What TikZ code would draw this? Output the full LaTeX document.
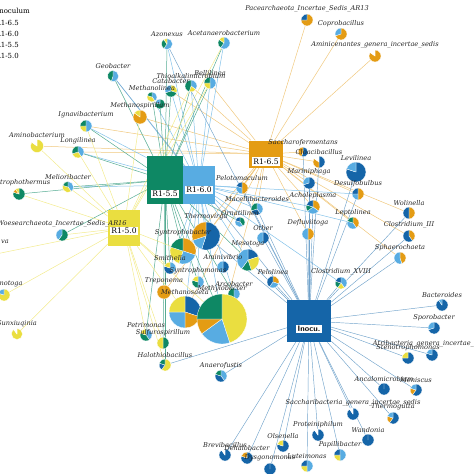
\documentclass[tikz,border=0pt]{standalone}
\usepackage{fontspec}
\setmainfont{DejaVu Serif}
\usetikzlibrary{positioning}
\definecolor{cino}{RGB}{21,101,168}
\definecolor{c65}{RGB}{228,156,20}
\definecolor{c60}{RGB}{88,172,226}
\definecolor{c55}{RGB}{14,136,100}
\definecolor{c50}{RGB}{234,222,64}
\pgfdeclarelayer{edges}
\pgfdeclarelayer{pies}
\pgfsetlayers{edges,pies,main}
\tikzset{
  hub/.style={rectangle, inner sep=0pt},
  hubtag/.style={rectangle, fill=white, inner sep=1.3pt, anchor=south, font=\fontsize{7.6}{9}\selectfont},
  taxon/.style={circle, inner sep=0pt},
  taxlabel/.style={inner sep=0.4pt, font=\fontsize{6.6}{8}\selectfont\itshape, text=black!85},
  legendtext/.style={anchor=east, inner sep=0pt, font=\fontsize{7}{8}\selectfont},
  eino/.style={cino!60, line width=0.45pt},
  e65/.style={c65!55, line width=0.5pt},
  e60/.style={c60!75, line width=0.5pt},
  e55/.style={c55!70, line width=0.5pt},
  e50/.style={c50!60, line width=0.5pt}
}
% pie chart taxon: id, x, y, radius (pt), name, colour/percent list
\newcommand{\taxon}[6]{%
  \node[taxon, minimum size=2*#4pt] (#1) at (#2,#3) {};
  \begin{pgfonlayer}{pies}
    \gdef\pieangle{90}%
    \foreach \col/\share in {#6}{%
      \fill[\col, draw=white, line width=0.3pt] (#1.center) -- ++(\pieangle:#4pt)
        arc[start angle=\pieangle, delta angle=-3.6*\share, radius=#4pt] -- cycle;
      \pgfmathsetmacro\pienext{\pieangle-3.6*\share}%
      \xdef\pieangle{\pienext}%
    }
  \end{pgfonlayer}
  \node[taxlabel, above=0.8pt of #1] (#1-l) {#5};
}
\begin{document}
\begin{tikzpicture}[x=1pt, y=-1pt]
  \clip (0,0) rectangle (474,474);

  % legend (cut by the left edge)
  \node[legendtext] (lg1) at (30,11) {Inoculum};
  \node[legendtext] (lg2) at (19,23) {R1-6.5};
  \node[legendtext] (lg3) at (19,34) {R1-6.0};
  \node[legendtext] (lg4) at (19,45) {R1-5.5};
  \node[legendtext] (lg5) at (19,56) {R1-5.0};

  % hubs
  \node[hub, fill=c65, minimum width=34pt, minimum height=27pt] (r65) at (266,154) {};
  \node[hubtag] (r65-t) at ([yshift=2pt]r65.south) {R1-6.5};
  \node[hub, fill=c55, minimum width=36pt, minimum height=48pt] (r55) at (165,180) {};
  \node[hubtag] (r55-t) at ([yshift=6pt]r55.south) {R1-5.5};
  \node[hub, fill=c60, minimum width=32pt, minimum height=38pt] (r60) at (199,185) {};
  \node[hubtag] (r60-t) at ([yshift=10pt]r60.south) {R1-6.0};
  \node[hub, fill=c50, minimum width=32pt, minimum height=36pt] (r50) at (124,228) {};
  \node[hubtag] (r50-t) at ([yshift=11pt]r50.south) {R1-5.0};
  \node[hub, fill=cino, minimum width=44pt, minimum height=42pt] (rino) at (309,321) {};
  \node[hubtag, font=\fontsize{8}{10}\sffamily\bfseries] (rino-t) at ([yshift=9pt]rino.south) {Inocu.};

  % top
  \taxon{pace}{307}{20}{6}{Pacearchaeota\_Incertae\_Sedis\_AR13}{c65/75,cino/25}
  \taxon{copr}{341}{34}{6}{Coprobacillus}{c65/70,c60/30}
  \taxon{amim}{375}{56}{6}{Aminicenantes\_genera\_incertae\_sedis}{c65/85,white/15}
  \taxon{acet}{224}{43}{6}{Acetanaerobacterium}{c60/60,c55/25,c50/15}
  \taxon{azon}{167}{44}{5.5}{Azonexus}{c60/60,c55/30,c50/10}
  \taxon{geob}{113}{76}{5.5}{Geobacter}{c60/55,c55/45}
  \taxon{thio}{191}{86}{6}{Thioalkalimicrobium}{c60/35,c50/20,c55/45}
  \taxon{bell}{210}{83}{6}{Bellilinea}{c60/50,c50/25,c55/25}
  \taxon{cata}{171}{91}{6}{Catabacter}{c50/30,c55/40,c60/30}
  \taxon{mlin}{152}{97}{5}{Methanolinea}{c60/40,c50/40,c55/20}
  \taxon{mgrn}{160}{104}{5}{}{c55/80,c60/20}
  \taxon{mspi}{140}{117}{7}{Methanospirillum}{c65/85,c50/15}
  \taxon{igna}{86}{126}{6}{Ignavibacterium}{c60/50,c50/25,c55/25}
  \taxon{amin}{37}{146}{6.5}{Aminobacterium}{c50/85,white/15}
  \taxon{long}{78}{152}{6}{Longilinea}{c60/40,c50/30,c55/30}
  % left
  \taxon{synt}{19}{194}{6}{Syntrophothermus}{c55/80,c65/10,c50/10}
  \taxon{mell}{68}{187}{5.5}{Melioribacter}{c60/40,c50/40,c55/20}
  \taxon{woes}{62}{235}{6}{Woesearchaeota\_Incertae\_Sedis\_AR16}{c55/60,c60/40}
  \taxon{xva}{-14}{256}{6}{}{c50/100}
  \node[taxlabel] (xva-l) at (5,242) {va};
  \taxon{kosm}{4}{295}{6}{Kosmotoga}{c50/80,c60/20}
  \taxon{sunx}{17}{334}{5.5}{Sunxiuqinia}{c50/90,white/10}
  % centre
  \taxon{pelo}{242}{188}{6}{Pelotomaculum}{c65/50,c60/30,cino/20}
  \taxon{mace}{257}{209}{6}{Macellibacteroides}{c60/40,cino/30,c55/30}
  \taxon{orna}{240}{222}{5}{Ornatilinea}{c55/40,c60/40,cino/20}
  \taxon{thvi}{206}{236}{14}{Thermovirga}{cino/55,c60/15,c65/30}
  \taxon{sypb}{183}{251}{13}{Syntrophobacter}{c65/30,c60/25,c50/25,c55/20}
  \taxon{othe}{263}{238}{6}{Other}{cino/50,c60/50}
  \taxon{meso}{248}{260}{11}{Mesotoga}{cino/20,c50/25,c55/15,c60/40}
  \taxon{peli}{273}{282}{6}{Pelolinea}{c65/30,c60/30,cino/40}
  \taxon{amiv}{223}{267}{6}{Aminivibrio}{cino/50,c60/50}
  \taxon{smit}{170}{268}{6}{Smithella}{c60/40,cino/40,c50/20}
  \taxon{sypm}{198}{282}{6}{Syntrophomonas}{c60/50,c55/30,c50/20}
  \taxon{trep}{164}{292}{7}{Treponema}{c65/100}
  \taxon{arco}{234}{294}{6}{Arcobacter}{c60/50,c55/50}
  \taxon{mbig}{185}{312}{16}{Methanosaeta}{cino/30,c65/20,c60/25,c50/25}
  \taxon{gbig}{222}{319}{25}{Methylobacter}{c50/45,c60/20,c65/10,c55/25}
  \taxon{petr}{146}{335}{6}{Petrimonas}{c60/40,c55/40,c50/20}
  \taxon{sulf}{163}{343}{6}{Sulfurospirillum}{c55/50,c50/50}
  \taxon{halo}{165}{365}{6}{Halothiobacillus}{c50/60,cino/20,c55/20}
  \taxon{anae}{221}{376}{6}{Anaerofustis}{c60/40,cino/40,c55/20}
  % right
  \taxon{sacc}{303}{152}{5}{Saccharofermentans}{cino/55,c65/45}
  \taxon{cloa}{319}{162}{6}{Cloacibacillus}{cino/50,c65/35,white/15}
  \taxon{mari}{309}{183}{6}{Mariniphaga}{cino/70,c60/30}
  \taxon{levi}{356}{172}{10}{Levilinea}{cino/80,c60/20}
  \taxon{desu}{358}{194}{6}{Desulfobulbus}{c65/50,c60/25,cino/25}
  \taxon{acho}{313}{207}{7}{Acholeplasma}{c65/35,c60/30,c55/15,cino/20}
  \taxon{woli}{409}{213}{6}{Wolinella}{c65/50,cino/50}
  \taxon{lept}{353}{223}{6}{Leptolinea}{c65/40,c60/40,c55/20}
  \taxon{clo3}{409}{236}{6}{Clostridium\_III}{c65/40,cino/60}
  \taxon{sphe}{400}{258}{6}{Sphaerochaeta}{c65/45,c60/55}
  \taxon{defl}{308}{234}{6}{Defluviitoga}{c65/50,c60/50}
  \taxon{clo8}{341}{283}{6}{Clostridium\_XVIII}{c60/40,c50/20,c55/20,cino/20}
  \taxon{bact}{442}{305}{6}{Bacteroides}{cino/90,c60/10}
  \taxon{spor}{434}{328}{6}{Sporobacter}{cino/70,c60/30}
  \taxon{atri}{432}{355}{6}{Atribacteria\_genera\_incertae\_sedis}{cino/80,c60/20}
  \taxon{sten}{408}{358}{6}{Stenotrophomonas}{cino/75,c50/25}
  \taxon{ancu}{384}{389}{6}{Ancalomicrobium}{cino/100}
  \taxon{meni}{416}{390}{6}{Meniscus}{cino/60,c65/20,c60/20}
  \taxon{sacb}{353}{414}{6}{Saccharibacteria\_genera\_incertae\_sedis}{cino/90,white/10}
  \taxon{ther}{393}{418}{6}{Thermogutta}{cino/60,c65/20,c60/20}
  \taxon{prot}{318}{435}{6}{Proteiniphilum}{cino/90,white/10}
  \taxon{wand}{368}{440}{6}{Wandonia}{cino/100}
  \taxon{papi}{340}{455}{6}{Papillibacter}{c60/50,c50/25,cino/25}
  % bottom
  \taxon{olse}{283}{446}{6}{Olsenella}{cino/80,c50/20}
  \taxon{brev}{225}{455}{6}{Brevibacillus}{cino/90,white/10}
  \taxon{deha}{247}{458}{6}{Dehalobacter}{cino/80,c65/20}
  \taxon{dysg}{270}{469}{6}{Dysgonomonas}{cino/100}
  \taxon{lute}{307}{466}{6}{Luteimonas}{c60/50,c50/25,cino/25}

  % connectors
  \begin{pgfonlayer}{edges}
    \foreach \t in {pace,copr,amim,sacc,cloa,mari,desu,woli,lept,clo3,sphe,acho,defl,
                    mspi,igna,amin,cata,bell,thio,pelo,mace,thvi,sypb,trep,mbig,gbig,long}
      \draw[e65] (r65) -- (\t);
    \foreach \t in {acet,azon,geob,thio,bell,cata,mlin,igna,long,mell,pelo,mace,orna,
                    thvi,sypb,meso,smit,sypm,arco,mbig,gbig,acho,lept,clo8,desu}
      \draw[e60] (r60) -- (\t);
    \foreach \t in {acet,azon,geob,thio,bell,cata,mlin,mgrn,igna,long,synt,mell,woes,sypb,
                    meso,smit,sypm,arco,gbig,petr,sulf,halo,orna}
      \draw[e55] (r55) -- (\t);
    \foreach \t in {amin,mell,xva,kosm,sunx,synt,woes,sypb,smit,mbig,gbig,petr,sulf,halo,
                    thio,bell,acet,igna,long,mspi}
      \draw[e50] (r50) -- (\t);
    \foreach \t in {sacc,cloa,mari,levi,desu,acho,woli,clo3,defl,clo8,bact,spor,atri,sten,
                    ancu,meni,sacb,ther,prot,wand,papi,olse,brev,deha,dysg,lute,anae,halo,
                    thvi,othe,meso,peli,mace,pelo,sphe,geob,azon}
      \draw[eino] (rino) -- (\t);
  \end{pgfonlayer}
\end{tikzpicture}
\end{document}
